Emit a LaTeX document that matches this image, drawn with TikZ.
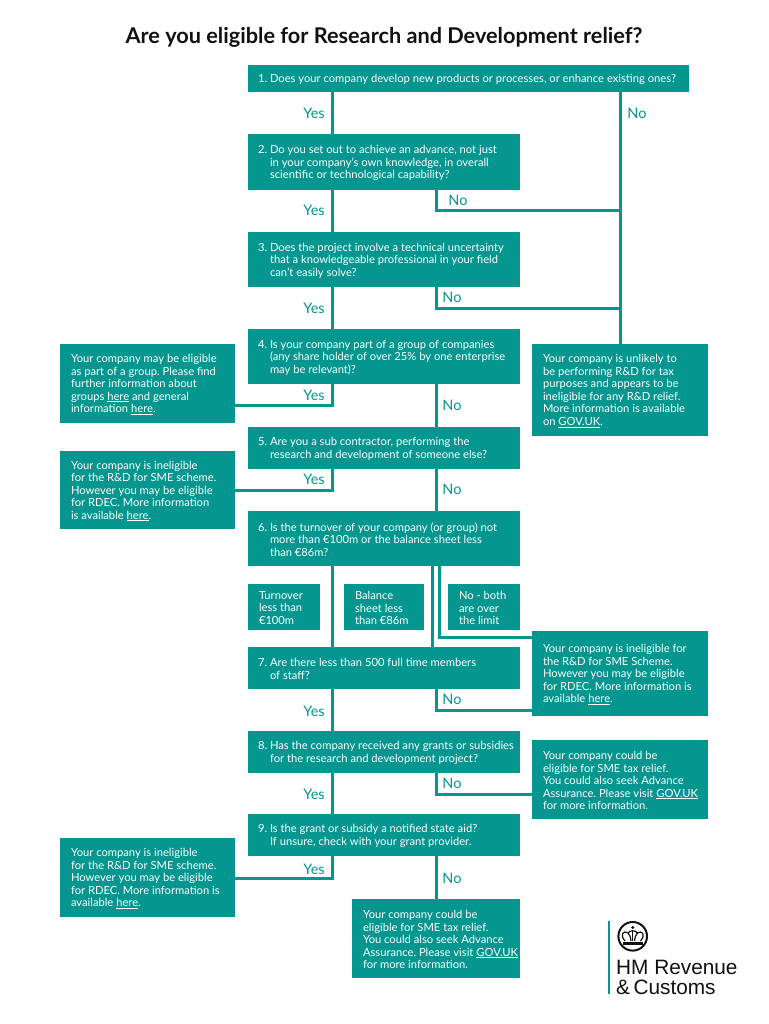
\documentclass[tikz,border=0pt]{standalone}
\usepackage{fontspec}
\setmainfont{Lato}
\newfontfamily\logofont{Liberation Sans}
\usetikzlibrary{calc}
\frenchspacing
\definecolor{hmteal}{HTML}{04968F}
\definecolor{inkblack}{HTML}{111111}
\newcommand{\bodyfont}{\fontsize{11.2}{12.5}\selectfont}
\newcommand{\hang}[1]{\phantom{#1}}
\newcommand{\lnk}[1]{\underline{#1}}
\tikzset{
  x=1pt,y=-1pt,
  flowbox/.style={fill=hmteal,text=white,inner sep=0pt,outer sep=0pt,font=\bodyfont,anchor=center},
  link/.style={draw=hmteal,line width=3pt,line cap=butt,line join=miter},
  answer/.style={text=hmteal,font=\fontsize{14.5}{14.5}\selectfont,inner sep=0pt,anchor=center},
  crownline/.style={draw=inkblack,line width=1.2pt,line join=round},
  logotext/.style={anchor=base west,inner sep=0pt,font=\logofont\fontsize{20.8}{20}\selectfont,text=inkblack},
}
% name, x1,y1,x2,y2, left inset, text
\newcommand{\flow}[7]{%
  \pgfmathsetmacro{\bw}{#4-#2}\pgfmathsetmacro{\bh}{#5-#3}%
  \pgfmathsetmacro{\tw}{\bw-#6}%
  \node[flowbox,minimum width=\bw pt,minimum height=\bh pt] (#1) at ({(#2+#4)/2},{(#3+#5)/2}) {\hspace*{#6pt}\begin{minipage}{\tw pt}\vspace*{2pt}\bodyfont\frenchspacing\raggedright\setlength{\parindent}{0pt}#7\end{minipage}};}
\begin{document}
\begin{tikzpicture}
\useasboundingbox (0,0) rectangle (768,1024);
\fill[white] (0,0) rectangle (768,1024);
\coordinate (spine) at (332,0);
\coordinate (branch) at (436,0);
\coordinate (nocol) at (620,0);
\coordinate (bal) at (432,0);
\coordinate (over) at (439,0);
\node[font=\fontsize{21.7}{24}\selectfont\bfseries,text=inkblack,inner sep=0pt] (title) at (384,37.5) {Are you eligible for Research and Development relief?};

\flow{q1}{248}{65}{689}{92}{10}{1. Does your company develop new products or processes, or enhance existing ones?}
\flow{q2}{248}{134}{520}{190}{10}{2. Do you set out to achieve an advance, not just\\\hang{2. }in your company's own knowledge, in overall\\\hang{2. }scientific or technological capability?}
\flow{q3}{248}{232}{520}{287}{10}{3. Does the project involve a technical uncertainty\\\hang{3. }that a knowledgeable professional in your field\\\hang{3. }can't easily solve?}
\flow{q4}{248}{329}{520}{384}{10}{4. Is your company part of a group of companies\\\hang{4. }(any share holder of over 25\% by one enterprise\\\hang{4. }may be relevant)?}
\flow{q5}{248}{427}{520}{469}{10}{5. Are you a sub contractor, performing the\\\hang{5. }research and development of someone else?}
\flow{q6}{248}{511}{520}{566}{10}{6. Is the turnover of your company (or group) not\\\hang{6. }more than €100m or the balance sheet less\\\hang{6. }than €86m?}
\flow{tn}{248}{584}{320}{630}{11}{Turnover\\less than\\€100m}
\flow{bs}{344}{584}{424}{630}{11}{Balance\\sheet less\\than €86m}
\flow{ov}{448}{584}{520}{630}{11}{No - both\\are over\\the limit}
\flow{q7}{248}{647}{520}{689}{10}{7. Are there less than 500 full time members\\\hang{7. }of staff?}
\flow{q8}{248}{731}{520}{773}{10}{8. Has the company received any grants or subsidies\\\hang{8. }for the research and development project?}
\flow{q9}{248}{814}{520}{856}{10}{9. Is the grant or subsidy a notified state aid?\\\hang{9. }If unsure, check with your grant provider.}
\flow{la}{60}{344}{235}{423}{11}{Your company may be eligible\\as part of a group. Please find\\further information about\\groups \lnk{here} and general\\information \lnk{here}.}
\flow{lb}{60}{451}{235}{529}{11}{Your company is ineligible\\for the R\&D for SME scheme.\\However you may be eligible\\for RDEC. More information\\is available \lnk{here}.}
\flow{lc}{60}{838}{235}{917}{11}{Your company is ineligible\\for the R\&D for SME scheme.\\However you may be eligible\\for RDEC. More information is\\available \lnk{here}.}
\flow{ra}{532}{344}{708}{436}{11}{Your company is unlikely to\\be performing R\&D for tax\\purposes and appears to be\\ineligible for any R\&D relief.\\More information is available\\on \lnk{GOV.UK}.}
\flow{rb}{532}{631}{708}{716}{11}{Your company is ineligible for\\the R\&D for SME Scheme.\\However you may be eligible\\for RDEC. More information is\\available \lnk{here}.}
\flow{rc}{532}{740}{708}{819}{11}{Your company could be\\eligible for SME tax relief.\\You could also seek Advance\\Assurance. Please visit \lnk{GOV.UK}\\for more information.}
\flow{rd}{352}{899}{520}{978}{11}{Your company could be\\eligible for SME tax relief.\\You could also seek Advance\\Assurance. Please visit \lnk{GOV.UK}\\for more information.}

% yes spine
\draw[link] (q1.south -| spine) -- (q2.north -| spine);
\draw[link] (q2.south -| spine) -- (q3.north -| spine);
\draw[link] (q3.south -| spine) -- (q4.north -| spine);
\draw[link] (q6.south -| spine) -- (q7.north -| spine);
\draw[link] (q7.south -| spine) -- (q8.north -| spine);
\draw[link] (q8.south -| spine) -- (q9.north -| spine);
% yes to left boxes
\draw[link] (q4.south -| spine) |- (la.east |- 0,405);
\draw[link] (q5.south -| spine) |- (lb.east |- 0,490);
\draw[link] (q9.south -| spine) |- (lc.east |- 0,878);
% no column
\draw[link] (q1.south -| nocol) -- (ra.north -| nocol);
\draw[link] (q2.south -| branch) |- (nocol |- 0,211);
\draw[link] (q3.south -| branch) |- (nocol |- 0,308);
\draw[link] (q4.south -| branch) -- (q5.north -| branch);
\draw[link] (q5.south -| branch) -- (q6.north -| branch);
\draw[link] (q6.south -| bal) -- (q7.north -| bal);
\draw[link] (q6.south -| over) |- (rb.west |- 0,637);
\draw[link] (q7.south -| branch) |- (rb.west |- 0,710);
\draw[link] (q8.south -| branch) |- (rc.west |- 0,794);
\draw[link] (q9.south -| branch) -- (rd.north -| branch);

% answers
\node[answer] (y1) at (314,113.5) {Yes};
\node[answer] (n1) at (637,113.5) {No};
\node[answer] (y2) at (314,210.5) {Yes};
\node[answer] (n2) at (458,200.5) {No};
\node[answer] (y3) at (314,308.5) {Yes};
\node[answer] (n3) at (452,297.5) {No};
\node[answer] (y4) at (314,395.5) {Yes};
\node[answer] (n4) at (452,405.5) {No};
\node[answer] (y5) at (314,479.5) {Yes};
\node[answer] (n5) at (452,489.5) {No};
\node[answer] (y7) at (314,711.5) {Yes};
\node[answer] (n7) at (452,699.5) {No};
\node[answer] (y8) at (314,794.5) {Yes};
\node[answer] (n8) at (452,783.5) {No};
\node[answer] (y9) at (314,869.5) {Yes};
\node[answer] (n9) at (452,878.5) {No};

% logo
\fill[hmteal] (607.5,921) rectangle (609.5,994);
\draw[inkblack,line width=2pt] (632.7,936.3) circle (14.3);
\fill[inkblack] (622.5,942) rectangle (643,944.5);
\draw[crownline] (625,941) .. controls (619,934) and (624,930) .. (628,933) .. controls (630,935) and (631,938) .. (631,941);
\draw[crownline] (640.5,941) .. controls (646.5,934) and (641.5,930) .. (637.5,933) .. controls (635.5,935) and (634.5,938) .. (634.5,941);
\draw[crownline] (628,933) .. controls (630,930) and (635.5,930) .. (637.5,933);
\draw[crownline] (632.7,931) -- (632.7,941);
\fill[inkblack] (632.7,927.5) circle (1.6);
\node[logotext] (hm) at (616,974) {HM Revenue};
\node[logotext] (cu) at (616,994) {\&\hspace{3.5pt}Customs};
\end{tikzpicture}
\end{document}
